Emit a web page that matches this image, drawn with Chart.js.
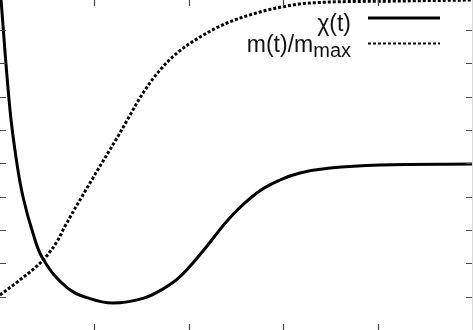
<!DOCTYPE html>
<html lang="en">
<head>
    <meta charset="UTF-8">
    <title>chi(t) and m(t)/m_max</title>
    <script src="https://cdn.jsdelivr.net/npm/chart.js"></script>
    <style>
        html, body {
            margin: 0;
            padding: 0;
            background: #fff;
        }
        .wrap {
            width: 474px;
            height: 330px;
            position: relative;
        }
    </style>
</head>
<body>
<div class="wrap">
    <canvas id="chiChart"></canvas>
</div>

<script>
    // values (t, value)
    const chiT = [0, 0.106, 0.18, 0.244, 0.339, 0.456, 0.71, 0.953, 1.197, 1.515, 1.72, 1.907, 2.15, 2.436, 2.72, 2.966, 3.178, 3.496, 4.025, 5.0];
    const chiV = [1.03, 0.66, 0.498, 0.399, 0.30, 0.213, 0.127, 0.094, 0.081, 0.095, 0.122, 0.16, 0.237, 0.337, 0.411, 0.45, 0.471, 0.486, 0.495, 0.498];

    const magT = [0, 0.21, 0.456, 0.614, 0.667, 0.953, 1.27, 1.515, 1.695, 1.875, 2.119, 2.405, 2.754, 3.1, 3.28, 4.24, 5.0];
    const magV = [0.105, 0.15, 0.21, 0.27, 0.30, 0.441, 0.591, 0.711, 0.78, 0.831, 0.879, 0.921, 0.954, 0.975, 0.981, 0.987, 0.99];

    const xTicks = [1, 2, 3, 4];
    const yTicks = [0.1, 0.2, 0.3, 0.4, 0.5, 0.6, 0.7, 0.8, 0.9];

    const toPoints = (xs, ys) => xs.map((x, i) => ({x: x, y: ys[i]}));

    // inward tick marks + right frame line
    const frameTicks = {
        id: 'frameTicks',
        afterDraw(chart) {
            const ctx = chart.ctx;
            const area = chart.chartArea;
            const xs = chart.scales.x;
            const ys = chart.scales.y;
            ctx.save();
            ctx.strokeStyle = '#d8d8d8';
            ctx.lineWidth = 1;
            ctx.beginPath();
            ctx.moveTo(area.right + 0.5, 0);
            ctx.lineTo(area.right + 0.5, 330);
            ctx.stroke();

            ctx.strokeStyle = '#444';
            ctx.lineWidth = 1.2;
            ctx.beginPath();
            yTicks.forEach(v => {
                const py = Math.round(ys.getPixelForValue(v)) + 0.5;
                ctx.moveTo(0, py);
                ctx.lineTo(6, py);
                ctx.moveTo(area.right - 6, py);
                ctx.lineTo(area.right, py);
            });
            xTicks.forEach(v => {
                const px = Math.round(xs.getPixelForValue(v)) + 0.5;
                ctx.moveTo(px, 330);
                ctx.lineTo(px, 324);
                ctx.moveTo(px, 0);
                ctx.lineTo(px, 6);
            });
            ctx.stroke();
            ctx.restore();
        }
    };

    // legend: text right-aligned, sample line on the right
    const legendBox = {
        id: 'legendBox',
        afterDraw(chart) {
            const ctx = chart.ctx;
            ctx.save();
            ctx.fillStyle = '#111';
            ctx.textBaseline = 'alphabetic';
            ctx.textAlign = 'right';
            ctx.font = '23px "Liberation Sans", Arial, sans-serif';
            ctx.fillText('\u03c7(t)', 351, 31);

            ctx.font = '20px "Liberation Sans", Arial, sans-serif';
            const subW = ctx.measureText('max').width;
            ctx.fillText('max', 351, 57);
            ctx.font = '23px "Liberation Sans", Arial, sans-serif';
            ctx.fillText('m(t)/m', 351 - subW, 52);

            ctx.strokeStyle = '#000';
            ctx.lineWidth = 3;
            ctx.beginPath();
            ctx.moveTo(368, 18);
            ctx.lineTo(440, 18);
            ctx.stroke();

            ctx.lineWidth = 2;
            ctx.setLineDash([3, 2]);
            ctx.beginPath();
            ctx.moveTo(368, 43.5);
            ctx.lineTo(440, 43.5);
            ctx.stroke();
            ctx.restore();
        }
    };

    const ctx = document.getElementById('chiChart').getContext('2d');
    new Chart(ctx, {
        type: 'line',
        data: {
            datasets: [{
                label: '\u03c7(t)',
                data: toPoints(chiT, chiV),
                borderColor: '#000',
                borderWidth: 3,
                pointRadius: 0,
                tension: 0.4,
                fill: false
            }, {
                label: 'm(t)/m_max',
                data: toPoints(magT, magV),
                borderColor: '#000',
                borderWidth: 3,
                borderDash: [3, 2],
                pointRadius: 0,
                cubicInterpolationMode: 'monotone',
                fill: false
            }]
        },
        options: {
            responsive: true,
            maintainAspectRatio: false,
            animation: false,
            layout: {
                padding: {left: 0, right: 2, top: 0, bottom: 0}
            },
            plugins: {
                legend: {display: false},
                tooltip: {enabled: false}
            },
            scales: {
                x: {
                    type: 'linear',
                    min: 0,
                    max: 5,
                    display: false
                },
                y: {
                    min: 0,
                    max: 0.99,
                    display: false
                }
            }
        },
        plugins: [frameTicks, legendBox]
    });
</script>
</body>
</html>
